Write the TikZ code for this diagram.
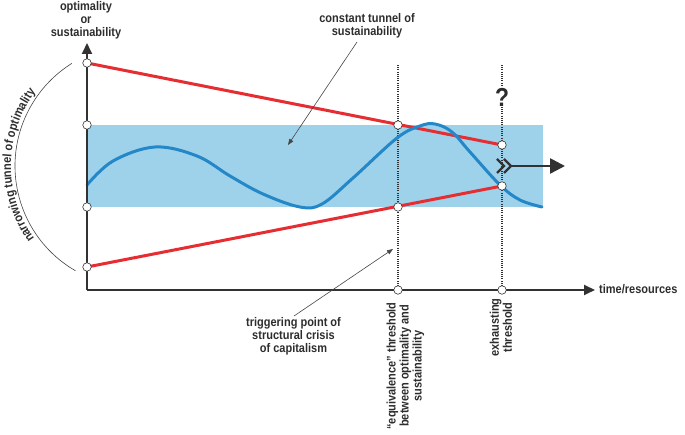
\documentclass[tikz,border=0pt]{standalone}
\usepackage{fontspec}
\setmainfont{Liberation Sans}[FakeStretch=0.88]
\usetikzlibrary{arrows.meta,decorations.text}
\definecolor{txt}{RGB}{45,45,45}
\definecolor{dark}{RGB}{50,50,50}
\definecolor{ptr}{RGB}{70,70,70}
\definecolor{redc}{RGB}{230,45,50}
\definecolor{curvec}{RGB}{35,135,200}
\definecolor{tunnelc}{RGB}{158,210,234}
\begin{document}
\begin{tikzpicture}[x=1pt,y=1pt,
  lab/.style={font=\bfseries\fontsize{12.5}{13}\selectfont, text=txt, align=center, inner sep=0pt},
  dotnode/.style={circle, draw=dark, fill=white, line width=0.6pt, minimum size=8.5pt, inner sep=0pt},
  axisline/.style={draw=dark, line width=1.8pt, -{Triangle[length=11pt,width=10pt]}},
  redline/.style={draw=redc, line width=3pt},
  guide/.style={draw=dark, line width=1.1pt, dash pattern=on 1.1pt off 1.1pt},
  pointer/.style={draw=ptr, line width=0.6pt, -{Triangle[length=6pt,width=4.5pt]}},
  arcline/.style={draw=ptr, line width=0.6pt},
  chev/.style={draw=dark, line width=2.4pt},
  outarrow/.style={draw=dark, line width=2.6pt, -{Triangle[length=15pt,width=15pt]}}
]
\useasboundingbox (0,0) rectangle (685,435);

% coordinates
\coordinate (O) at (87,145);
\coordinate (ytip) at (87,392);
\coordinate (xtip) at (595,145);
\coordinate (ya) at (87,372);
\coordinate (yb) at (87,310);
\coordinate (yc) at (87,228);
\coordinate (yd) at (87,168);
\coordinate (ea) at (398,310);
\coordinate (eb) at (398,228);
\coordinate (ex) at (398,145);
\coordinate (etop) at (398,370);
\coordinate (ha) at (502,290);
\coordinate (hb) at (502,249);
\coordinate (hx) at (502,145);
\coordinate (htop) at (502,370);

% tunnel of sustainability
\fill[tunnelc] (87,228) rectangle (543,310);

% guides
\draw[guide] (etop) -- (ex);
\draw[guide] (htop) -- (hx);

% red tunnel of optimality
\draw[redline] (ya) -- (ha);
\draw[redline] (yd) -- (hb);

% curve
\draw[curvec, line width=3pt, line cap=round] plot[smooth, tension=0.6] coordinates {
 (87,250) (113,274) (155,288) (197,279) (230,259) (263,241) (300,228) (322,231)
 (353,257) (397,297) (420,309) (435,311) (452,303) (470,283) (500,250) (520,235) (542,228)};

% axes
\draw[axisline] (O) -- (ytip);
\draw[axisline] (O) -- (xtip);

% circles
\foreach \c in {ya,yb,yc,yd,ea,eb,ex,ha,hb,hx}
  \node[dotnode] (n\c) at (\c) {};

% question mark
\node[font=\bfseries\fontsize{26}{26}\selectfont, text=txt, fill=white, inner sep=1pt] (qm) at (502,338) {?};

% output arrow with chevrons
\coordinate (c1a) at (497,276); \coordinate (c1m) at (504,269); \coordinate (c1b) at (497,262);
\coordinate (c2a) at (504,276); \coordinate (c2m) at (511,269); \coordinate (c2b) at (504,262);
\coordinate (arS) at (510,269); \coordinate (arE) at (565,269);
\draw[chev] (c1a) -- (c1m) -- (c1b);
\draw[chev] (c2a) -- (c2m) -- (c2b);
\draw[outarrow] (arS) -- (arE);

% narrowing arc
\coordinate (arcC) at (136,269);
\draw[arcline] (arcC) ++(240:121) arc[start angle=240, end angle=122, radius=121];
\path[decorate, decoration={text along path, text align=center, text color=txt,
  text={|\bfseries\fontsize{12.5}{13}\selectfont|narrowing tunnel of optimality}}]
  (arcC) ++(218:125) arc[start angle=218, end angle=141, radius=125];

% labels
\node[lab] (ylab) at (86,414.5) {optimality\\or\\sustainability};
\node[lab] (ctlab) at (367,409.5) {constant tunnel of\\sustainability};
\node[lab, anchor=west] (xlab) at (599,145.5) {time/resources};
\node[lab] (trlab) at (293.5,99) {triggering point of\\structural crisis\\of capitalism};
\node[lab, rotate=90] (eqlab) at (405.5,69) {“equivalence” threshold\\between optimality and\\sustainability};
\node[lab, rotate=90] (exlab) at (501,107.5) {exhausting\\threshold};

% pointers
\coordinate (ctS) at (357,393); \coordinate (ctE) at (288,290);
\coordinate (trS) at (294,119); \coordinate (trE) at (393,186);
\draw[pointer] (ctS) -- (ctE);
\draw[pointer] (trS) -- (trE);
\end{tikzpicture}
\end{document}
